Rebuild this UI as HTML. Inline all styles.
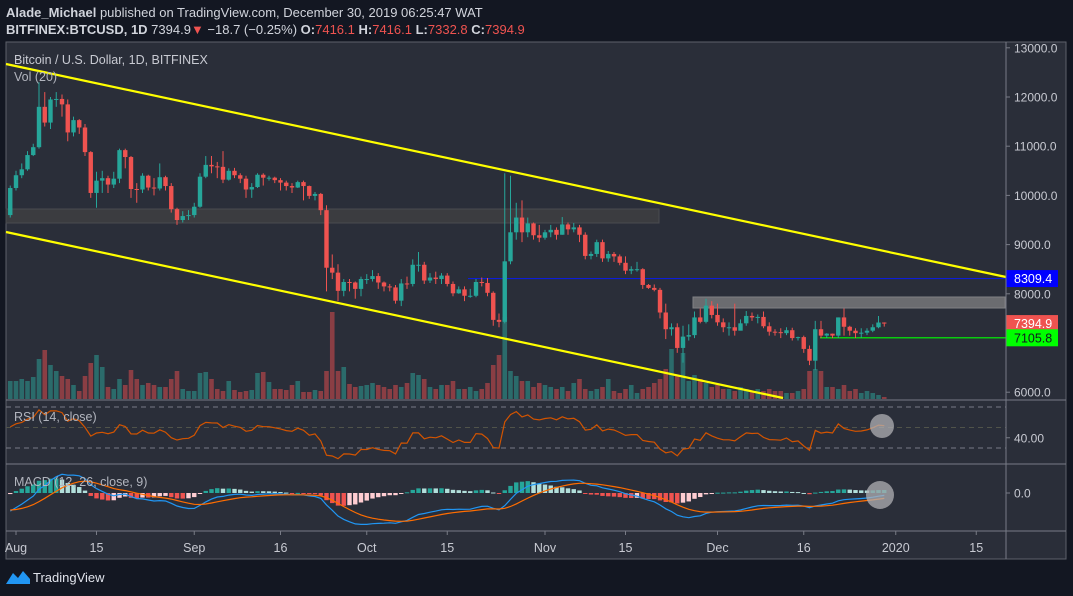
<!DOCTYPE html>
<html><head><meta charset="utf-8"><style>
html,body{margin:0;padding:0;background:#131722;width:1073px;height:596px;overflow:hidden;font-family:"Liberation Sans",sans-serif}
svg text{font-family:"Liberation Sans",sans-serif}
</style></head><body>
<svg id="chart" width="1073" height="596" viewBox="0 0 1073 596" xmlns="http://www.w3.org/2000/svg">
<g>
<text x="6" y="17" font-size="13" fill="#d1d4dc"><tspan font-weight="bold">Alade_Michael</tspan> published on TradingView.com, December 30, 2019 06:25:47 WAT</text>
<text x="6" y="34" font-size="13" fill="#d1d4dc"><tspan font-weight="bold">BITFINEX:BTCUSD, 1D</tspan> 7394.9<tspan fill="#ef5350">▼</tspan> −18.7 (−0.25%) <tspan font-weight="bold">O:</tspan><tspan fill="#ef5350">7416.1</tspan> <tspan font-weight="bold">H:</tspan><tspan fill="#ef5350">7416.1</tspan> <tspan font-weight="bold">L:</tspan><tspan fill="#ef5350">7332.8</tspan> <tspan font-weight="bold">C:</tspan><tspan fill="#ef5350">7394.9</tspan></text>
</g>
<rect x="6" y="42" width="1060" height="517" fill="#2a2e39" stroke="#5d606b" stroke-width="1"/>
<g id="g-main"></g>
<line x1="1006" y1="42" x2="1006" y2="559" stroke="#787b86"/>
<line x1="6" y1="400" x2="1066" y2="400" stroke="#787b86"/>
<line x1="6" y1="464" x2="1066" y2="464" stroke="#787b86"/>
<line x1="6" y1="531" x2="1066" y2="531" stroke="#787b86"/>
<text x="14" y="64" font-size="12.5" fill="#c8cad2">Bitcoin / U.S. Dollar, 1D, BITFINEX</text>
<text x="14" y="81" font-size="12.5" fill="#b2b5be">Vol (20)</text>
<text x="14" y="421" font-size="12.5" fill="#b2b5be">RSI (14, close)</text>
<text x="14" y="486" font-size="12.5" fill="#b2b5be">MACD (12, 26, close, 9)</text>
<g>
<path d="M6 584 L13 573 L18 578 L23 571 L30 579 L30 584 Z" fill="#2196f3"/>
<text x="33" y="582" font-size="13" fill="#e0e3eb">TradingView</text>
</g>
</svg>
<script>
const closes=[10150,
10410,10530,10820,10980,11800,11480,11950,11960,11850,11280,11530,11380,10880,10050,10300,10350,10220,10340,10920,10780,10130,10120,10400,10160,10140,10370,10190,9720,9500,9580,9600,
9770,10380,10620,10590,10580,10320,10500,10410,10340,10120,10170,10420,10360,10360,10310,10260,10190,10160,10270,10190,9990,10030,9700,8530,8430,8060,8240,8230,8100,8300,
8300,8360,8230,8150,8130,7860,8210,8200,8590,8590,8270,8330,8300,8370,8200,8010,8090,7960,7960,8240,8220,8020,7470,7430,8660,9250,9550,9250,9430,9190,9140,
9250,9300,9200,9410,9310,9350,9200,8770,8810,9050,8720,8810,8760,8630,8470,8500,8500,8180,8120,8080,7620,7280,7320,6900,7130,7160,7520,7430,7760,7570,
7420,7320,7320,7250,7400,7550,7520,7530,7340,7230,7220,7200,7260,7100,7120,6880,6640,7280,7150,7190,7150,7520,7330,7250,7200,7210,7250,7320,7416,7395];
const firstOpen=9600;
const highs=[10200,
10500,10650,10900,11050,12300,12100,12000,12100,12050,11950,11600,11550,11450,10900,10480,10500,10400,10480,10950,10950,10800,10250,10450,10420,10350,10650,10400,10250,9750,9680,9700,
9850,10450,10800,10800,10680,10900,10550,10560,10450,10400,10250,10450,10450,10400,10380,10350,10300,10250,10300,10300,10200,10070,10050,9800,8800,8600,8300,8300,8250,8350,
8400,8480,8420,8250,8200,8180,8300,8350,8700,8850,8650,8420,8450,8420,8420,8250,8150,8150,8100,8300,8330,8320,8050,7600,10450,10400,9850,9900,9550,9450,9400,
9300,9400,9350,9560,9450,9440,9400,9250,8860,9100,9100,8870,8850,8800,8760,8560,8650,8520,8200,8190,8120,7800,7400,7400,7350,7380,7640,7700,7900,7850,
7800,7500,7420,7800,7480,7650,7620,7580,7640,7420,7280,7300,7320,7310,7130,7150,6950,7450,7450,7200,7190,7520,7700,7350,7300,7300,7300,7380,7550,7420];
const lows=[9550,
10100,10350,10500,10800,10950,11400,11350,11800,11600,11100,11200,11250,10800,9950,9750,10050,10050,10150,10250,10550,9950,9850,10050,10100,10000,10100,10100,9650,9400,9450,9500,
9550,9750,10350,10450,10350,10250,10300,10350,10250,9950,9950,10150,10200,10300,10250,10100,10100,10050,10150,9900,9930,9900,9600,8050,8300,7850,7950,8050,7900,7950,
8200,8250,8100,8050,8050,7800,7750,8100,8150,8450,8200,8220,8200,8200,8150,7950,8000,7850,7920,7930,8150,7950,7350,7320,7400,8600,9100,9050,9150,9100,9050,
9100,9150,9100,9200,9200,9250,9050,8700,8700,8750,8650,8650,8650,8580,8400,8400,8450,8100,8100,8050,7500,7080,7150,6800,6600,7050,7100,7400,7400,7500,
7350,7220,7150,7150,7280,7350,7450,7400,7300,7150,7150,7100,7160,7050,7050,6800,6550,6450,7100,7100,7100,7100,7150,7150,7100,7110,7160,7220,7300,7333];
const volumes=[18,
18,20,18,22,40,49,34,28,23,20,14,8,23,36,44,32,12,10,20,14,29,20,14,16,14,12,12,20,28,10,8,
8,26,27,20,10,8,18,9,7,8,9,26,27,17,10,10,9,14,18,7,7,9,8,28,87,28,32,15,12,13,
14,16,14,12,10,14,12,16,26,24,20,12,10,14,14,18,10,10,12,8,10,16,34,44,82,28,23,18,18,12,16,
14,12,10,12,8,16,20,10,8,10,12,20,8,6,10,14,6,10,12,16,20,30,50,24,46,18,24,20,16,12,
14,10,10,8,12,10,8,10,8,10,8,8,6,6,8,10,28,30,28,12,12,10,14,8,10,6,8,6,4,2];
const warmupCloses=[10600,11000,11950,11150,10980,11250,11480,12300,12570,12100,11350,11800,11380,11200,10870,9430,9680,10630,10530,10760,10590,10330,9910,9850,9890,9870,9490,9560,9500,9590];
const priceTicks=[13000,12000,11000,10000,9000,8000,6000];
const timeLabels=["Aug","15","Sep","16","Oct","15","Nov","15","Dec","16","2020","15"];
const timeDays=[0,14,31,46,61,75,92,106,122,137,153,167];
const trendUpper=[[6,64],[1006,277]];
const trendLower=[[6,232],[783,398]];
const levelBlue=8309.4, levelGreen=7105.8, lastPrice=7394.9;

const NS="http://www.w3.org/2000/svg";
const g=document.getElementById('g-main');
function el(tag,attrs,parent){const e=document.createElementNS(NS,tag);for(const k in attrs)e.setAttribute(k,attrs[k]);(parent||g).appendChild(e);return e;}
const xDay=d=>16+d*5.75;
const xIdx=i=>xDay(i-1);
const yP=p=>97+(12000-p)*0.0492;
const yVol=v=>399-v;
const yRsi=r=>407+(70-r)*1.025;
const yMacd=m=>493-m*0.055;
const UP="#26a69a",DN="#ef5350";

// zones
let z1=el('rect',{x:6,y:209,width:653,height:14,fill:"#3b3c40",stroke:"#4a4b50"});


let z2=el('rect',{x:693,y:297,width:312,height:11,fill:"#6b6c70",stroke:"#808185"});



// volume
volumes.forEach((v,i)=>{const o=i?closes[i-1]:firstOpen;const up=closes[i]>=o;
 const r=el('rect',{x:xIdx(i)-2.3,y:yVol(v),width:4.6,height:v,fill:up?"#2b6b6b":"#8a3e44"});
 
 });

// level lines
let lb=el('line',{x1:468,y1:yP(levelBlue),x2:1006,y2:yP(levelBlue),stroke:"#0d1dd8","stroke-width":1.2});


let lg=el('line',{x1:820,y1:yP(levelGreen),x2:1006,y2:yP(levelGreen),stroke:"#00ff00","stroke-width":1.2});



// candles
closes.forEach((c,i)=>{const o=i?closes[i-1]:firstOpen;const up=c>=o;const col=up?UP:DN;const x=xIdx(i);
 const w=el('line',{x1:x,y1:yP(highs[i]),x2:x,y2:yP(lows[i]),stroke:col,"stroke-width":1});
 
 
 const t=Math.min(yP(o),yP(c));const h=Math.max(1,Math.abs(yP(o)-yP(c)));
 const b=el('rect',{x:x-2.2,y:t,width:4.4,height:h,fill:col});
 
 });

// trendlines
[trendUpper,trendLower].forEach((t,k)=>{const l=el('line',{x1:t[0][0],y1:t[0][1],x2:t[1][0],y2:t[1][1],stroke:"#ffff00","stroke-width":2.2});
 
 });

// price axis
priceTicks.forEach(p=>{const y=yP(p);
 el('line',{x1:1006,y1:y,x2:1010,y2:y,stroke:"#787b86"});
 const t=el('text',{x:1014,y:y+4.5,"font-size":12,fill:"#c8cad2"});t.textContent=p.toFixed(1);
 
 });
function tag(val,bg,fg,name){const y=yP(val);
 const r=el('rect',{x:1006,y:y-8.5,width:52,height:17,fill:bg});
 
 
 const t=el('text',{x:1014,y:y+4.5,"font-size":12.5,fill:fg});t.textContent=val.toFixed(1);
 
 }
tag(levelBlue,"#0000ff","#ffffff",'blue-level-tag');
tag(lastPrice,"#ef5350","#ffffff",'last-price-tag');
tag(levelGreen,"#00ff00","#131722",'green-level-tag');

// RSI
const all=warmupCloses.concat([firstOpen],closes);
const off=warmupCloses.length+1;
let ag=0,al=0;const rsi=[];
for(let i=1;i<all.length;i++){const d=all[i]-all[i-1];const gn=Math.max(d,0),ls=Math.max(-d,0);
 if(i<=14){ag+=gn/14;al+=ls/14;}else{ag=(ag*13+gn)/14;al=(al*13+ls)/14;}
 rsi[i]=al===0?100:100-100/(1+ag/al);}
[[70,"#787b86"],[50,"#50534a"],[30,"#787b86"]].forEach(([v,c])=>{const l=el('line',{x1:6,y1:yRsi(v),x2:1006,y2:yRsi(v),stroke:c,"stroke-dasharray":"5,4"});
 
 });
let rp="";closes.forEach((c,i)=>{rp+=(i?"L":"M")+xIdx(i).toFixed(1)+" "+yRsi(rsi[i+off]).toFixed(1);});
let rl=el('path',{d:rp,fill:"none",stroke:"#d35400","stroke-width":1.2});


el('line',{x1:1006,y1:yRsi(40),x2:1010,y2:yRsi(40),stroke:"#787b86"});
let rt=el('text',{x:1014,y:yRsi(40)+4.5,"font-size":12,fill:"#c8cad2"});rt.textContent="40.00";



// MACD
function ema(arr,n){const k=2/(n+1);const out=[];let e=arr[0];arr.forEach((v,i)=>{e=i?v*k+e*(1-k):v;out.push(e);});return out;}
const e12=ema(all,12),e26=ema(all,26);const macd=all.map((v,i)=>e12[i]-e26[i]);const sig=ema(macd,9);
closes.forEach((c,i)=>{const j=i+off;const h=macd[j]-sig[j];const hp=macd[j-1]-sig[j-1];
 const col=h>=0?(h>=hp?"#26a69a":"#b2dfdb"):(h<=hp?"#ef5350":"#ffcdd2");
 const y0=yMacd(0),y1=yMacd(h);
 const r=el('rect',{x:xIdx(i)-2.2,y:Math.min(y0,y1),width:4.4,height:Math.max(1,Math.abs(y1-y0)),fill:col});
 
 });
let mp="",sp="";closes.forEach((c,i)=>{const j=i+off;mp+=(i?"L":"M")+xIdx(i).toFixed(1)+" "+yMacd(macd[j]).toFixed(1);sp+=(i?"L":"M")+xIdx(i).toFixed(1)+" "+yMacd(sig[j]).toFixed(1);});
let ml=el('path',{d:mp,fill:"none",stroke:"#2196f3","stroke-width":1.2});


let sl=el('path',{d:sp,fill:"none",stroke:"#ff6d00","stroke-width":1.2});


el('line',{x1:1006,y1:yMacd(0),x2:1010,y2:yMacd(0),stroke:"#787b86"});
let mt=el('text',{x:1014,y:yMacd(0)+4.5,"font-size":12,fill:"#c8cad2"});mt.textContent="0.0";



// highlight circles
let c1=el('circle',{cx:882,cy:426,r:12,fill:"#b0b0b4","fill-opacity":0.75});


let c2=el('circle',{cx:880,cy:495,r:14,fill:"#b0b0b4","fill-opacity":0.75});



// time axis
timeLabels.forEach((lab,k)=>{const x=xDay(timeDays[k]);
 el('line',{x1:x,y1:531,x2:x,y2:535,stroke:"#787b86"});
 const t=el('text',{x:x,y:552,"font-size":12.5,fill:"#c8cad2","text-anchor":"middle"});t.textContent=lab;
 
 });
</script>
</body></html>
